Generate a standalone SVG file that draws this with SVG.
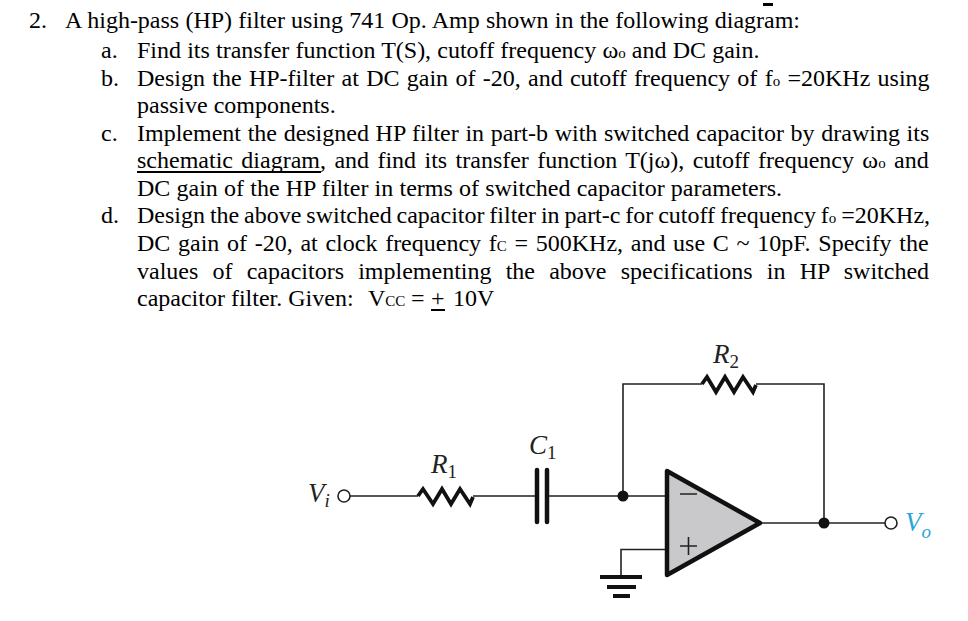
<svg xmlns="http://www.w3.org/2000/svg" width="968" height="621" viewBox="0 0 968 621">
<style>
.t{font-family:"Liberation Serif","Times New Roman",serif;font-size:24px;fill:#000}
.s{font-size:15px}
.l{font-family:"Liberation Serif","Times New Roman",serif;font-style:italic;font-size:27px;fill:#222}
.n{font-style:normal;font-size:19px}
.i{font-style:italic;font-size:19px}
.w{fill:none;stroke:#222;stroke-width:1.6}
.r{fill:none;stroke:#111;stroke-width:3.800;stroke-linejoin:miter}
.d{fill:#111}
.o{fill:#fff;stroke:#222;stroke-width:1.6}
.b{fill:#000}
</style>
<rect width="968" height="621" fill="#fff"/>
<g id="question">
<rect class="b" x="763" y="3" width="10" height="3"/>
<text class="t" x="29" y="28">2.</text>
<text class="t" x="65" y="28" word-spacing="0.2">A high-pass (HP) filter using 741 Op. Amp shown in the following diagram:</text>
<text class="t" x="101" y="58">a.</text>
<text class="t" x="137" y="58" word-spacing="0.15">Find its transfer function T(S), cutoff frequency ω<tspan class="s">o</tspan> and DC gain.</text>
<text class="t" x="101" y="86">b.</text>
<text class="t" x="137" y="86" word-spacing="1.3">Design the HP-filter at DC gain of -20, and cutoff frequency of f<tspan class="s">o</tspan> =20KHz using</text>
<text class="t" x="137" y="113">passive components.</text>
<text class="t" x="101" y="141">c.</text>
<text class="t" x="137" y="141" word-spacing="0.67">Implement the designed HP filter in part-b with switched capacitor by drawing its</text>
<text class="t" x="137" y="168" word-spacing="2.4">schematic diagram, and find its transfer function T(jω), cutoff frequency ω<tspan class="s">o</tspan> and</text>
<rect class="b" x="137" y="171" width="184" height="2"/>
<text class="t" x="137" y="196" word-spacing="0.2">DC gain of the HP filter in terms of switched capacitor parameters.</text>
<text class="t" x="101" y="223">d.</text>
<text class="t" x="137" y="223" word-spacing="-1.1">Design the above switched capacitor filter in part-c for cutoff frequency f<tspan class="s">o</tspan> =20KHz,</text>
<text class="t" x="137" y="251" word-spacing="1.7">DC gain of -20, at clock frequency f<tspan class="s">C</tspan> = 500KHz, and use C ~ 10pF. Specify the</text>
<text class="t" x="137" y="279" word-spacing="8.200">values of capacitors implementing the above specifications in HP switched</text>
<text class="t" x="137" y="306">capacitor filter. Given: <tspan x="368">V</tspan><tspan class="s">CC</tspan><tspan x="411">=</tspan><tspan x="431">+</tspan><tspan x="453">10V</tspan></text>
<rect class="b" x="431" y="309" width="14" height="2"/>
</g>
<g id="connectors">
<path class="w" d="M350 496H418M473 496H537M547 496H667"/>
<path class="w" d="M623 496V384H702M756 384H824V523"/>
<path class="w" d="M760 523H885"/>
<path class="w" d="M667 549.500H621V577"/>
</g>
<g id="Vi"><circle class="o" cx="344" cy="496" r="6"/><text class="l" x="308" y="502">V<tspan class="i" dy="5">i</tspan></text></g>
<g id="R1"><path class="r" d="M418 496L423 489L433 504L442 489L451 504L460 489L470 504L473 497"/><text class="l" x="431" y="473">R<tspan class="n" dy="5">1</tspan></text></g>
<g id="C1"><path d="M537 470V522M547 470V522" fill="none" stroke="#111" stroke-width="4.500" stroke-linecap="round"/><text class="l" x="529" y="454">C<tspan class="n" dy="5">1</tspan></text></g>
<g id="R2"><path class="r" d="M702 384L707 377L716 392L725 377L734 392L743 377L753 392L756 385"/><text class="l" x="713" y="363">R<tspan class="n" dy="5">2</tspan></text></g>
<g id="opamp"><path d="M667 471V575L760 523Z" fill="#c9c9cb" stroke="#111" stroke-width="4.500" stroke-linejoin="round"/><path class="w" d="M680 494H697M680 546H697M688.500 537V555"/></g>
<g id="n1"><circle class="d" cx="623" cy="496" r="5.500"/></g>
<g id="n2"><circle class="d" cx="824" cy="523" r="5.500"/></g>
<g id="Vo"><circle class="o" cx="891" cy="523" r="6"/><text class="l" x="905" y="531" style="fill:#2aa6d8">V<tspan class="i" dy="7">o</tspan></text></g>
<g id="ground"><path d="M600 577H642M607 587H636M613 596H630" fill="none" stroke="#111" stroke-width="4"/></g>
</svg>
